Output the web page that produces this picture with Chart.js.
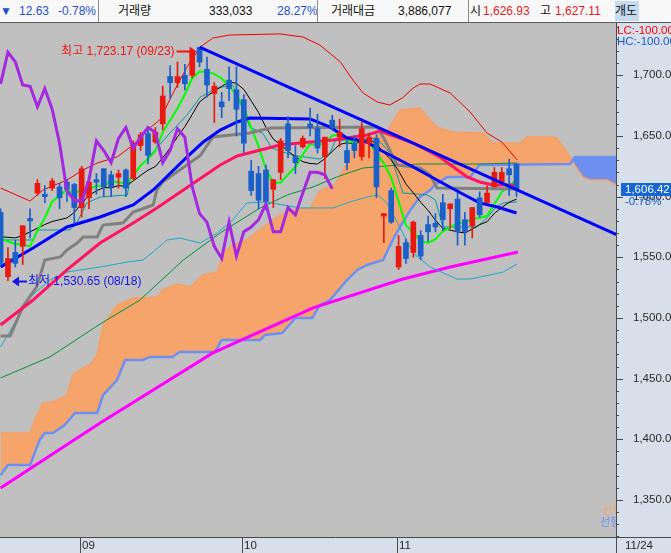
<!DOCTYPE html>
<html>
<head>
<meta charset="utf-8">
<script src="https://cdn.jsdelivr.net/npm/chart.js@4.4.1/dist/chart.umd.min.js"></script>
<style>
  html, body { margin: 0; padding: 0; background: #c0c0c0; }
  #wrap { position: relative; width: 671px; height: 553px; overflow: hidden; }
  #chart { position: absolute; left: 0; top: 0; }
  #bar { position: absolute; left: 0; top: 0; width: 671px; height: 23px; box-sizing: border-box;
         background: #f8f8f8; border-bottom: 1px solid #5a5a5a; z-index: 2;
         font: 12px "Liberation Sans", "Noto Sans CJK KR", sans-serif; color: #111; }
  #bar span { position: absolute; top: 3px; line-height: 16px; white-space: nowrap; }
  #bar i { position: absolute; top: 0; width: 1px; height: 22px; background: #8c8c8c; }
  #bar .blue { color: #1e4fd0; }
  #bar .red { color: #e01e1e; }
  #bar .tag { background: #c6daf0; top: 1px; height: 20px; line-height: 20px; width: 24px; }
</style>
</head>
<body>
<div id="wrap">
  <canvas id="chart" width="671" height="553"></canvas>
  <div id="bar">
    <span class="blue" style="left:0px">▼</span>
    <span class="blue" style="left:19px" id="chg"></span>
    <span class="blue" style="left:58px" id="chgPct"></span>
    <i style="left:98px"></i>
    <span style="left:118px">거래량</span>
    <span style="left:209px" id="vol"></span>
    <span class="blue" style="left:277px" id="volPct"></span>
    <i style="left:317px"></i>
    <span style="left:331px">거래대금</span>
    <span style="left:398px" id="amt"></span>
    <i style="left:468px"></i>
    <span style="left:470px">시</span>
    <span class="red" style="left:483px" id="open"></span>
    <span style="left:540px">고</span>
    <span class="red" style="left:555px" id="high"></span>
    <span class="tag" style="left:615px">개도</span>
  </div>
</div>
<script>
// daily candles, 2009-08-17 .. 2009-11-24
const dates = ['08/17','08/18','08/19','08/20','08/21','08/24','08/25','08/26','08/27','08/28','08/31',
  '09/01','09/02','09/03','09/04','09/07','09/08','09/09','09/10','09/11','09/14','09/15','09/16','09/17','09/18',
  '09/21','09/22','09/23','09/24','09/25','09/28','09/29','09/30',
  '10/01','10/05','10/06','10/07','10/08','10/09','10/12','10/13','10/14','10/15','10/16','10/19','10/20','10/21',
  '10/22','10/23','10/26','10/27','10/28','10/29','10/30',
  '11/02','11/03','11/04','11/05','11/06','11/09','11/10','11/11','11/12','11/13','11/16','11/17','11/18','11/19',
  '11/20','11/23','11/24'];
const opens = [1587,1534,1554,1559,1582,1603,1602,1607,1608,1612,1610,1591,1599,1614,1623,1618,1616,1622,1615,1642,
  1652,1645,1660,1699,1694,1700,1700,1723,1705,1685,1678,1696,1688,1680,1621,1619,1622,1606,1620,1660,
  1633,1641,1660,1656,1633,1663,1649,1638,1644,1633,1644,1648,1584,1605,1542,1562,1554,1568,1577,1578,
  1595,1590,1598,1581,1576,1599,1595,1608,1612,1623,1626.93];
const highs = [1590,1558,1564,1576,1590,1614,1609,1615,1611,1614,1611,1625,1614,1619,1623,1621,1622,1623,1646,1653,
  1656,1657,1691,1708,1711,1709,1719,1723.17,1715,1694,1686,1707,1707,1684,1630,1625,1626,1614,1648,1666,
  1642,1650,1673,1668,1649,1667,1664,1646,1650,1661,1652,1651,1586,1607,1568,1565,1580,1572,1584,1586,
  1602,1594,1603,1587,1591,1604,1609,1624,1624,1631,1627.11];
const lows = [1543,1530.65,1542,1544,1566,1601,1595,1605,1590,1596,1578,1583,1590,1602,1600,1600,1607,1600,1614,1638,
  1627,1644,1655,1681,1690,1688,1698,1707,1682,1661,1665,1679,1650,1636,1601,1590,1589,1591,1614,1632,
  1619,1640,1650,1636,1615,1655,1641,1622,1632,1630,1632,1599,1562,1578,1540,1545,1550,1548,1563,1571,
  1572,1574,1560,1560,1566,1583,1595,1608,1612,1601,1600];
const closes = [1545,1549,1545,1576,1580,1611,1600,1613,1599,1606,1591,1623,1612,1612,1608,1608,1619,1607,1644,1651,
  1634,1653,1683,1694,1699,1693,1719,1711,1692,1691,1674,1689,1672,1644,1605,1597,1596,1614,1646,1638,
  1628,1648,1657,1640,1649,1657,1653,1628,1638,1656,1649,1608,1586,1579,1559,1549,1579,1551,1571,1575,
  1581,1594,1571,1571,1591,1585,1603,1620,1620,1618,1606.42];

// moving averages, one value per candle
const ma5 = [1566,1563,1561,1560.5,1559.0,1572.2,1582.4,1596.0,1600.6,1605.8,1601.8,1606.4,1606.2,1608.8,1609.2,
  1612.6,1611.8,1610.8,1617.2,1625.8,1631.0,1637.8,1653.0,1663.0,1672.6,1684.4,1697.6,1703.2,1702.8,1701.2,
  1697.4,1691.4,1683.6,1674.0,1656.8,1641.4,1622.8,1611.2,1611.6,1618.2,1624.4,1634.8,1643.4,1642.2,1644.4,
  1650.2,1651.2,1645.4,1645.0,1646.4,1644.8,1635.8,1627.4,1615.6,1596.2,1576.2,1570.4,1563.4,1561.8,1565.0,
  1571.4,1574.4,1578.4,1578.4,1581.6,1582.4,1584.2,1594.0,1603.8,1609.2,1613.5];
const ma10 = [1567,1566.5,1566,1568,1571,1574,1577,1579.5,1581,1582.4,1587.0,1594.4,1601.1,1604.7,1607.5,
  1607.2,1609.1,1608.5,1613.0,1617.5,1621.8,1624.8,1631.9,1640.1,1649.2,1657.7,1667.7,1678.1,1682.9,1686.9,
  1690.9,1694.5,1693.4,1688.4,1679.0,1669.4,1657.1,1647.4,1642.8,1637.5,1632.9,1628.8,1627.3,1626.9,1631.3,
  1637.3,1643.0,1644.4,1643.6,1645.4,1647.5,1643.5,1636.4,1630.3,1621.3,1610.5,1603.1,1595.4,1588.7,1580.6,
  1573.8,1572.4,1570.9,1570.1,1573.3,1576.9,1579.3,1586.2,1591.1,1595.4,1597.9];

// sparse readings: position (candle index) and value
const ma20X = [0,4.4,9,13.5,18,20.7,25.3,27.5,29.8,32.1,33.8,42,44.7,47,49.7,51.5,56,59.2,62.7,65,67.4,70];
const ma20 = [1542,1557.7,1575,1583.2,1593.1,1605.5,1632.7,1645,1654.9,1661.5,1664.8,1664,1657.4,1648.3,1645,1638.4,
  1624.4,1613.7,1602.2,1594.8,1591.5,1586.5];
const ma60X = [0,4.4,9,13.5,18,21.2,24.8,29.8,32.1,37.9,42,45.1,49.7,51.5,56,59.6,63.3,65,66.8,70];
const ma60 = [1494.2,1514.8,1539.6,1561.8,1578.3,1590.6,1605.5,1626.1,1633.5,1642.6,1645,1646.7,1650.8,1654.1,1644.2,
  1632.7,1616.2,1612.1,1609.6,1609.6];
const ma120X = [0,13.5,28.8,42.4,54.6,61,70.2];
const ma120 = [1359.9,1413.5,1471.2,1508.3,1532.1,1542,1554.4];
const kijunX = [0,1.3,3,4.9,6,8.1,9,10.4,11.2,13.1,13.9,16.6,18,20.7,21.2,22,24.3,27.1,28.8,33.8,36.6,51.1,51.9,
  53.8,56.9,58.3,59.2,70.1];
const kijun = [1485.2,1485.2,1509.1,1525.6,1547.8,1550.3,1556.1,1561.8,1566.8,1566.8,1576.6,1578.3,1587.3,1593.1,
  1605.5,1612.1,1622,1634,1649.2,1652.5,1656.6,1657.4,1649.2,1626.1,1623.6,1617.9,1607.1,1606.3];
const tenkanX = [0,4.4,5.1,9.4,10.4,11.7,13.5,17.2,17.6,20.7,23,25.3,27.1,29.4,31.5,32.9,33.8,35.6,36.8,39.7,43.3,
  44.7,45.4,51.1,52.8,54.6,57.9,59,60,64.6,66,67.1,68.2,70.1];
const tenkan = [1564.3,1564.3,1572.5,1572.5,1579.1,1594.8,1599.7,1601.4,1615.4,1636.8,1652.5,1667.3,1682.1,1689.5,
  1692,1671.4,1657.4,1652,1640,1634,1631,1636,1646,1648,1636,1603,1601.4,1597.2,1575,1575,1582.4,1590.7,1594.8,1595.6];
const upperX = [0,4,5.75,9,11.2,13.1,15.8,18,19.9,21.6,23.4,25.3,27.1,28.8,31.1,37.9,41,43.3,46.1,47.8,49.2,51.1,
  52.8,54.5,56,56.9,58.3,61,63.7,66,68,70.1];
const upper = [1607.1,1596.4,1605.5,1613.7,1622,1627.7,1632.7,1642.6,1654.9,1663.2,1685.4,1706.9,1723.3,1730.7,
  1733.2,1734.1,1731.6,1725,1711,1696.1,1685.4,1678,1675.5,1681.3,1689.5,1692.8,1692.8,1685.4,1669.8,1652.4,1645,1630.2];
const lowerX = [0,4,6.7,9,13.5,17.2,19.3,20.7,22.6,24.3,27.1,29.4,31.5,33.4,36.1,40.6,45.1,47.4,49.7,51.2,52.4,
  53.8,55.96,58.3,61.9,63.7,66.4,68.2,70.1];
const lower = [1476.1,1517.3,1531.3,1537.9,1542,1546.1,1547.8,1554.4,1564.3,1565.9,1561.8,1570.1,1580.8,1594.8,
  1595.6,1590.7,1590.7,1595.6,1599.7,1601.4,1594.8,1579.1,1553.6,1542,1532.1,1532.1,1535.4,1537.9,1544.5];
const trendGX = [0,6.7,13.5,18.9,24.8,29.8,35.2,38.9,42.4,45.6,49.2,52.4,56.9,65,70.1];
const trendG = [1450.6,1467.9,1495,1514.8,1547.8,1570.1,1590.6,1601.4,1608,1616.2,1623.6,1625.3,1626.9,1626.9,1627.7];
const spanAX = [0,4,4.9,5.75,7.1,9,9.8,11.2,12.1,13.1,13.9,15.8,18,21.2,22,23.9,25.7,27.5,29.4,30.2,31.5,33.4,35.6,
  37.5,39.3,42,43.3,45.4,46.5,47.4,49.7,52.4,53.8,54.2,56.9,58.3,59.2,61.4,65.5,66.8,70.5,71.4,75,75.5,76.9,77.9,
  79,80,82.3,83.6];
const spanA = [1405.2,1405.2,1420.1,1429.9,1430.8,1436.5,1453,1458.8,1461.3,1469.5,1494.2,1510.7,1516.5,1517.3,
  1523.1,1528,1525.5,1535.4,1537.9,1553.6,1560.2,1564.3,1575,1583.2,1589,1590.7,1604.7,1610.4,1622,1634.3,1646.7,
  1653.3,1667.3,1671.4,1673.1,1663.2,1657.4,1653.3,1652.5,1644.2,1644.2,1649.2,1649.2,1648.3,1636,1626.1,1616.2,
  1613.7,1613.7,1609.6];
const spanBX = [0,1,4,5.3,6,7.1,8.7,10.1,13.1,13.9,15.8,16.9,19.3,20.3,23.3,24.3,29.1,30,35.2,35.9,38.2,40,42.3,
  43.3,44.7,47,48.4,49.7,51.9,53.2,54.2,55.6,56.9,58.3,58.9,60.6,63.7,65,77.3,77.9,83.6];
const spanB = [1370.6,1378.9,1378.9,1399.5,1405.2,1405.2,1411.8,1421.7,1421.7,1436.5,1448.9,1465.4,1465.4,1467.9,
  1467.9,1472,1472,1481.9,1481.9,1486,1487.6,1500,1500,1510.7,1514.8,1531.3,1539.6,1543.7,1547.8,1564.3,1575,1589,
  1599.7,1605.5,1609.6,1616.2,1616.2,1626.1,1626.9,1632.7,1632.7];
const trendX = [27, 84];
const trendY = [1723.17, 1567.6];
const laggingShift = 25;

const yTicks = [1350, 1400, 1450, 1500, 1550, 1600, 1650, 1700];
const monthLabels = ['09', '10', '11'];
const monthStart = [11, 33, 54];
const change = '12.63', changePct = '-0.78%', volume = '333,033', volumePct = '28.27%', amount = '3,886,077';

const RED = '#e8190e', BLUE = '#1b5fc8';
const FONT = '"Liberation Sans", "Noto Sans CJK KR", sans-serif';
const fmt = v => v.toLocaleString('en-US', {minimumFractionDigits: 2, maximumFractionDigits: 2});
const xy = (xs, ys) => xs.map((x, i) => ({x, y: ys[i]}));
const byIndex = ys => ys.map((y, i) => ({x: i, y}));

document.getElementById('chg').textContent = change;
document.getElementById('chgPct').textContent = changePct;
document.getElementById('vol').textContent = volume;
document.getElementById('volPct').textContent = volumePct;
document.getElementById('amt').textContent = amount;
document.getElementById('open').textContent = fmt(opens[opens.length - 1]);
document.getElementById('high').textContent = fmt(highs[highs.length - 1]);

function line(data, color, width, order, extra) {
    return Object.assign({type: 'line', data, borderColor: color, borderWidth: width, pointRadius: 0,
        tension: 0, fill: false, order, clip: 0}, extra || {});
}

const candleColors = closes.map((c, i) => c >= opens[i] ? RED : BLUE);

const deco = {
    id: 'deco',
    beforeDraw(chart) {
        const {ctx, chartArea: a, width, height} = chart;
        ctx.save();
        ctx.fillStyle = '#c0c0c0';
        ctx.fillRect(a.left, a.top, a.right - a.left, a.bottom - a.top);
        ctx.fillStyle = '#d6dfea';
        ctx.fillRect(a.right, a.top, width - a.right, height - a.top);
        ctx.fillRect(0, a.bottom, width, height - a.bottom);
        ctx.restore();
    },
    afterDraw(chart) {
        const {ctx, chartArea: a, width, height, scales: {x, y}} = chart;
        ctx.save();

        // "선행" legends in the corner of the plot
        ctx.save();
        ctx.beginPath();
        ctx.rect(a.left, a.top, a.right - a.left, a.bottom - a.top);
        ctx.clip();
        ctx.font = '11px ' + FONT;
        ctx.textBaseline = 'middle';
        ctx.fillStyle = '#f5a46c';
        ctx.fillText('선행', a.right - 14, a.bottom - 26);
        ctx.fillStyle = '#6e8ff0';
        ctx.fillText('선행', a.right - 16, a.bottom - 14);
        ctx.restore();

        // axis lines and tick marks
        ctx.strokeStyle = '#4a4a4a';
        ctx.lineWidth = 1;
        ctx.beginPath();
        ctx.moveTo(a.right + 0.5, a.top);
        ctx.lineTo(a.right + 0.5, height);
        ctx.moveTo(0, a.bottom + 0.5);
        ctx.lineTo(width, a.bottom + 0.5);
        for (let v = 1320; v <= 1740; v += 10) {
            const py = Math.round(y.getPixelForValue(v)) + 0.5;
            ctx.moveTo(a.right + 1, py);
            ctx.lineTo(a.right + 1 + (v % 50 === 0 ? 6 : 2), py);
        }
        monthStart.forEach(i => {
            const px = Math.round(x.getPixelForValue(i - 0.25)) + 0.5;
            ctx.moveTo(px, a.bottom);
            ctx.lineTo(px, height);
        });
        ctx.stroke();

        ctx.font = '11.5px ' + FONT;
        ctx.textBaseline = 'middle';
        ctx.fillStyle = '#2a2a2a';
        monthStart.forEach((i, k) => {
            const px = Math.round(x.getPixelForValue(i - 0.25));
            ctx.fillText(monthLabels[k], px + 2, a.bottom + 8.5);
        });
        ctx.fillText(dates[dates.length - 1], a.right + 9, a.bottom + 8.5);

        // LC / HC
        ctx.fillStyle = '#ff0000';
        ctx.fillText('LC:-100.00', a.right + 1, a.top + 8);
        ctx.fillStyle = '#1e5ac8';
        ctx.fillText('HC:-100.00', a.right + 1, a.top + 19);

        // current price box
        const last = closes[closes.length - 1];
        const py = Math.round(y.getPixelForValue(last));
        ctx.fillStyle = '#1767d2';
        ctx.fillRect(a.right + 5, py - 6, width - a.right - 5, 13);
        ctx.fillStyle = '#ffffff';
        ctx.fillText(fmt(last), a.right + 9, py + 0.5);
        ctx.fillStyle = '#1e5ac8';
        ctx.fillText(changePct, a.right + 9, py + 13);

        // highest / lowest marks
        ctx.font = '12px ' + FONT;
        const hi = Math.max(...highs), hiIdx = highs.indexOf(hi);
        const hx = x.getPixelForValue(hiIdx), hy = Math.round(y.getPixelForValue(hi)) + 4.5;
        ctx.fillStyle = ctx.strokeStyle = '#f01414';
        ctx.lineWidth = 2;
        ctx.beginPath();
        ctx.moveTo(hx - 23, hy);
        ctx.lineTo(hx - 9, hy);
        ctx.stroke();
        ctx.beginPath();
        ctx.moveTo(hx - 3, hy);
        ctx.lineTo(hx - 10, hy - 5);
        ctx.lineTo(hx - 10, hy + 5);
        ctx.closePath();
        ctx.fill();
        ctx.textAlign = 'right';
        ctx.fillText('최고 ' + fmt(hi) + ' (' + dates[hiIdx] + ')', hx - 25, hy);

        const lo = Math.min(...lows), loIdx = lows.indexOf(lo);
        const lx = x.getPixelForValue(loIdx), ly = Math.round(y.getPixelForValue(lo)) + 0.5;
        ctx.fillStyle = ctx.strokeStyle = '#1414e6';
        ctx.beginPath();
        ctx.moveTo(lx + 10, ly);
        ctx.lineTo(lx + 19, ly);
        ctx.stroke();
        ctx.beginPath();
        ctx.moveTo(lx + 4, ly);
        ctx.lineTo(lx + 11, ly - 5);
        ctx.lineTo(lx + 11, ly + 5);
        ctx.closePath();
        ctx.fill();
        ctx.textAlign = 'left';
        ctx.fillText('최저 ' + fmt(lo) + ' (' + dates[loIdx] + ')', lx + 20, ly);

        ctx.restore();
    }
};

new Chart(document.getElementById('chart'), {
    type: 'line',
    data: {
        datasets: [
            line(xy(spanAX, spanA), '#f4a066', 1.5, 20, {fill: {target: 1, above: '#f5a46c', below: '#6e8ff0'}}),
            line(xy(spanBX, spanB), '#6e8ff0', 2.5, 19),
            line(xy(ma120X, ma120), '#ff00ff', 3, 18),
            line(xy(trendGX, trendG), '#00923c', 1, 17),
            line(xy(lowerX, lower), '#1eaac8', 1, 16),
            line(xy(upperX, upper), '#f00000', 1, 15),
            line(xy(tenkanX, tenkan), '#009c9c', 1, 14),
            line(byIndex(ma10), '#000000', 1, 13),
            line(byIndex(ma5), '#00ff00', 2, 12),
            line(xy(kijunX, kijun), '#808080', 3, 11),
            line(xy(ma60X, ma60), '#ff1464', 3, 10),
            line(xy(ma20X, ma20), '#0000ff', 3, 9),
            {
                type: 'bar', order: 8, grouped: false, barThickness: 1, clip: 0,
                data: lows.map((l, i) => ({x: i, y: [l, highs[i]]})),
                backgroundColor: candleColors, borderWidth: 0
            },
            {
                type: 'bar', order: 7, grouped: false, barThickness: 5, minBarLength: 1, clip: 0,
                data: opens.map((o, i) => ({x: i, y: [o, closes[i]]})),
                backgroundColor: candleColors, borderWidth: 0
            },
            line(byIndex(closes.slice(laggingShift)), '#a428e0', 3, 6),
            line(xy(trendX, trendY), '#0000ff', 3, 5)
        ]
    },
    options: {
        responsive: false,
        animation: false,
        events: [],
        layout: {padding: {top: 23, bottom: 16, left: 0, right: 0}},
        plugins: {legend: {display: false}, tooltip: {enabled: false}},
        scales: {
            x: {type: 'linear', min: -0.08, max: 83.5, offset: false, display: false},
            y: {
                position: 'right',
                min: 1319.5,
                max: 1743.1,
                bounds: 'data',
                afterBuildTicks: s => { s.ticks = yTicks.map(v => ({value: v})); },
                afterFit: s => { s.width = 55; s.paddingTop = 0; s.paddingBottom = 0; },
                grid: {display: false},
                border: {display: false},
                ticks: {
                    autoSkip: false,
                    padding: 9,
                    color: '#2a2a2a',
                    font: {family: FONT, size: 11.5},
                    callback: v => fmt(v)
                }
            }
        }
    },
    plugins: [deco]
});
</script>
</body>
</html>
